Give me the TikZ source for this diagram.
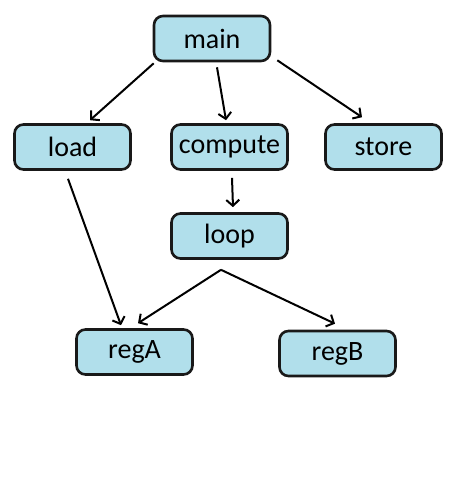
\documentclass[tikz,border=0pt]{standalone}
\usepackage{fontspec}
\setmainfont{Carlito}
\usepackage{xcolor}
\usetikzlibrary{arrows.meta}
\definecolor{boxblue}{RGB}{177,223,235}

\begin{document}
\begin{tikzpicture}[x=1pt,y=-1pt]
\tikzset{fn/.style={draw=black!90,line width=2.6pt,fill=boxblue,rounded corners=9pt,minimum width=116pt,minimum height=45pt,inner sep=0pt,font=\fontsize{28}{30}\selectfont}}
\tikzset{call/.style={-{Straight Barb[length=6pt,width=13pt]},line width=2pt}}

\useasboundingbox (0,0) rectangle (474,479);

\node[fn] (main) at (212,38.5) {main};
\node[fn] (load) at (72.5,147) {load};
\node[fn] (compute) at (229.5,147) {compute};
\node[fn] (store) at (383.5,147) {store};
\node[fn] (loop) at (229.5,236) {loop};
\node[fn] (regA) at (134.5,352) {regA};
\node[fn] (regB) at (337.5,353.5) {regB};

\draw[call] ([xshift=1pt,yshift=-1pt]main.south west) -- ([xshift=17.5pt,yshift=3pt]load.north);
\draw[call] ([xshift=5pt,yshift=-5pt]main.south) -- ([xshift=-3.5pt,yshift=3pt]compute.north);
\draw[call] ([xshift=6pt,yshift=2pt]main.south east) -- ([xshift=-21.5pt,yshift=6pt]store.north);
\draw[call] ([xshift=2.5pt,yshift=-7pt]compute.south) -- ([xshift=3.5pt,yshift=5pt]loop.north);
\draw[call] ([xshift=-4.5pt,yshift=-8pt]load.south) -- ([xshift=-13.5pt,yshift=3pt]regA.north);
\draw[call] ([xshift=-8.5pt,yshift=-10pt]loop.south) -- ([xshift=3.5pt,yshift=5pt]regA.north);
\draw[call] ([xshift=-8.5pt,yshift=-10pt]loop.south) -- ([xshift=-2.5pt,yshift=6pt]regB.north);

\end{tikzpicture}
\end{document}
